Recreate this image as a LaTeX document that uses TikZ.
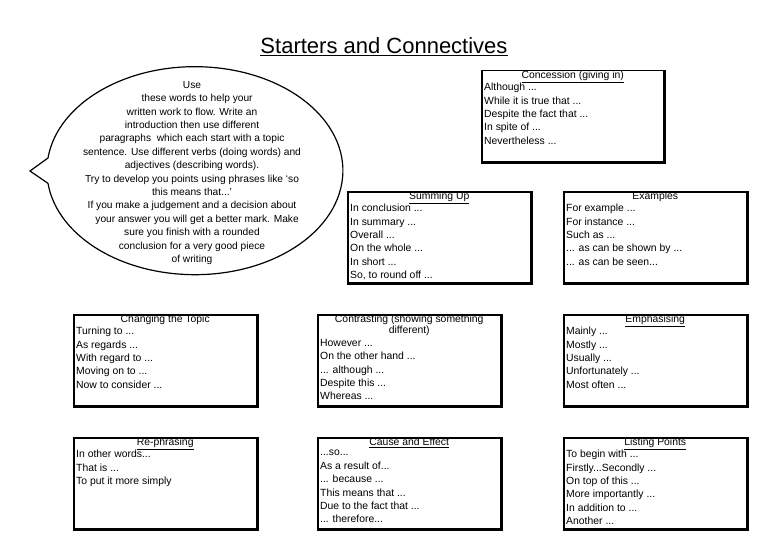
\documentclass[tikz,border=0pt]{standalone}
\usepackage{fontspec}
\setmainfont{Liberation Sans}
\newcommand\myul[1]{\underline{#1}}
\begin{document}
\begin{tikzpicture}[x=1pt,y=-1pt,
  box/.style={draw,line width=1.5pt,minimum width=#1,minimum height=91pt,anchor=north west,inner sep=0pt},
  box/.default=183pt,
  txt/.style={anchor=north west,align=left,font=\fontsize{10.4}{13.4}\selectfont,inner sep=0pt},
  hd/.style={anchor=north,font=\fontsize{10.4}{11}\selectfont,inner sep=0pt,align=center}]
\useasboundingbox (0,0) rectangle (768,543);
\node (title) at (384,47) {\fontsize{22}{26}\selectfont\myul{Starters and Connectives}};
% bubble
\draw[line width=1.2pt,fill=white] (48,158) arc[start angle=187,end angle=533,x radius=148,y radius=104] -- (30,171) -- cycle;
\node[font=\fontsize{10.2}{13.4}\selectfont,align=center,inner sep=0pt] (bubbletext) at (192,173) {Use\\
\quad these words to help your\\
written work to flow. Write an\\
introduction then use different\qquad\\
paragraphs\ \ which each start with a topic\\
sentence. Use different verbs (doing words) and\\
adjectives (describing words).\hspace{9em}\\
Try to develop you points using phrases like `so\\
this means that...'\hspace{13em}\\
If you make a judgement and a decision about\\
\quad your answer you will get a better mark. Make\\
sure you finish with a rounded\qquad\\
conclusion for a very good piece\\
of writing\hspace{5em}};
\newcommand\cbox[6]{%
 \node[box=#3] (#1) at (#2) {};
 \draw[line width=2.6pt] (#1.north east) -- (#1.south east) -- (#1.south west);
 \node[hd] (#1h) at ([yshift=-1pt]#1.north) {#4};
 \node[txt] (#1t) at ([xshift=3pt,yshift=#6]#1.north west) {#5};}
\cbox{conc}{481,70}{182pt}{\myul{Concession (giving in)}}{Although ...\\While it is true that ...\\Despite the fact that ...\\In spite of ...\\Nevertheless ...}{-13pt}
\cbox{sum}{347,191}{183pt}{\myul{Summing Up}}{In conclusion ...\\In summary ...\\Overall ...\\On the whole ...\\In short ...\\So, to round off ...}{-13pt}
\cbox{ex}{563,191}{183pt}{Examples}{For example ...\\For instance ...\\Such as ...\\... as can be shown by ...\\... as can be seen...}{-13pt}
\cbox{chg}{73,314}{183pt}{Changing the Topic}{Turning to ...\\As regards ...\\With regard to ...\\Moving on to ...\\Now to consider ...}{-13pt}
\cbox{con}{317,314}{183pt}{Contrasting (showing something\\different)}{However ...\\On the other hand ...\\... although ...\\Despite this ...\\Whereas ...}{-25pt}
\cbox{emp}{563,314}{183pt}{\myul{Emphasising}}{Mainly ...\\Mostly ...\\Usually ...\\Unfortunately ...\\Most often ...}{-13pt}
\cbox{rep}{73,437}{183pt}{\myul{Re-phrasing}}{In other words...\\That is ...\\To put it more simply}{-13pt}
\cbox{cau}{317,437}{183pt}{\myul{Cause and Effect}}{...so...\\As a result of...\\... because ...\\This means that ...\\Due to the fact that ...\\... therefore...}{-13pt}
\cbox{lst}{563,437}{183pt}{\myul{Listing Points}}{To begin with ...\\Firstly...Secondly ...\\On top of this ...\\More importantly ...\\In addition to ...\\Another ...}{-13pt}
\end{tikzpicture}
\end{document}
